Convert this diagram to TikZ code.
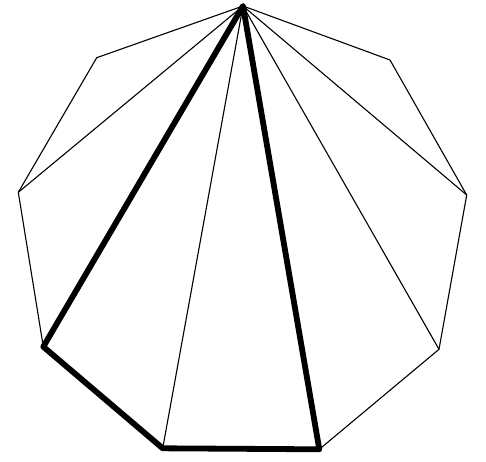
\documentclass[tikz,border=0pt]{standalone}
\begin{document}
\begin{tikzpicture}[x=1pt,y=-1pt,
  thinline/.style={line width=1.1pt,black},
  thickline/.style={line width=5.8pt,black,line join=round,line cap=round}]
\useasboundingbox (0,0) rectangle (486,461);
\coordinate (T) at (243,6);
\coordinate (V1) at (96.7,57.7);
\coordinate (V2) at (18.3,192.3);
\coordinate (V3) at (43.3,346.7);
\coordinate (V4) at (162.7,448.3);
\coordinate (V5) at (319.3,449.3);
\coordinate (V6) at (439,349.3);
\coordinate (V7) at (466.7,195);
\coordinate (V8) at (390,60);
\draw[thinline,line join=round] (T) -- (V1) -- (V2) -- (V3) -- (V4) -- (V5) -- (V6) -- (V7) -- (V8) -- cycle;
\draw[thinline] (T) -- (V2);
\draw[thinline] (T) -- (V4);
\draw[thinline] (T) -- (V6);
\draw[thinline] (T) -- (V7);
\draw[thickline] (T) -- (V3) -- (V4) -- (V5) -- cycle;
\end{tikzpicture}
\end{document}
